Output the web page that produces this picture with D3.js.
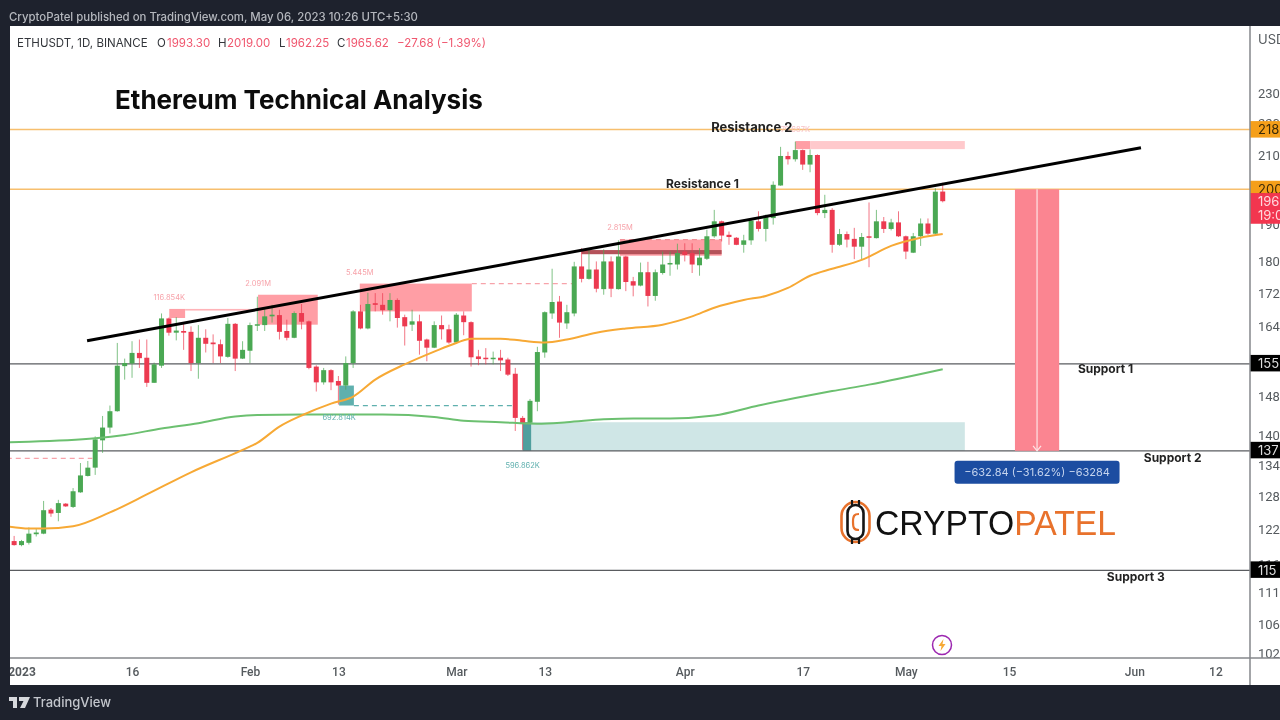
<!DOCTYPE html>
<html>
<head>
<meta charset="utf-8">
<script src="https://cdn.jsdelivr.net/npm/d3@7"></script>
<style>
  html, body { margin: 0; padding: 0; background: #1e222d; }
  svg { display: block; filter: blur(0.45px); }
  text { font-family: Inter, Roboto, sans-serif; }
</style>
</head>
<body>
<div id="chart"></div>
<script>
// daily candles, first one is 31 Dec 2022
const firstCandle = -1; // days from 1 Jan 2023
const opens = [
  1200,1193,1197,1212,1213,1256,1250,1267,1261,1288,
  1319,1335,1389,1415,1449,1547,1553,1577,1566,1510,
  1548,1658,1624,1628,1626,1554,1612,1601,1597,1568,
  1645,1564,1582,1642,1642,1663,1666,1628,1612,1671,
  1651,1546,1511,1538,1514,1504,1554,1675,1634,1695,
  1691,1678,1703,1661,1643,1651,1608,1589,1642,1632,
  1601,1665,1649,1569,1566,1563,1566,1562,1530,1435,
  1425,1469,1578,1670,1699,1646,1670,1788,1756,1780,
  1730,1801,1730,1814,1750,1739,1773,1713,1771,1793,
  1793,1827,1823,1791,1808,1868,1909,1872,1864,1845,
  1857,1909,1888,1918,2011,2099,2089,2117,2073,2102,
  1932,1941,1845,1874,1861,1840,1868,1863,1909,1888,
  1906,1868,1824,1868,1903,1875,1993.3];
const highs = [
  1209,1202,1224,1222,1272,1259,1274,1268,1296,1344,
  1348,1397,1439,1461,1600,1564,1604,1608,1608,1555,
  1670,1660,1661,1649,1639,1642,1632,1620,1608,1659,
  1647,1604,1648,1711,1684,1691,1679,1655,1675,1693,
  1653,1549,1543,1540,1525,1569,1678,1691,1721,1720,
  1720,1720,1707,1667,1679,1667,1610,1651,1665,1643,
  1671,1675,1651,1584,1588,1580,1584,1566,1543,1439,
  1475,1591,1675,1782,1713,1691,1800,1836,1836,1801,
  1833,1814,1857,1816,1761,1798,1800,1780,1827,1827,
  1848,1849,1849,1836,1886,1941,1911,1881,1866,1872,
  1918,1937,1928,2023,2127,2112,2143,2119,2119,2104,
  1984,1946,1888,1881,1891,1877,1962,1941,1921,1916,
  1937,1870,1877,1917,1917,2003,2019];
const lows = [
  1192,1191,1194,1208,1212,1243,1235,1261,1259,1287,
  1318,1321,1364,1403,1448,1517,1521,1543,1501,1510,
  1543,1617,1606,1584,1536,1519,1578,1554,1554,1566,
  1536,1563,1554,1628,1628,1648,1608,1606,1611,1632,
  1540,1491,1506,1494,1463,1495,1543,1632,1632,1675,
  1667,1651,1636,1594,1628,1573,1558,1588,1608,1598,
  1598,1618,1546,1549,1551,1551,1536,1525,1408,1370,
  1424,1449,1566,1657,1612,1633,1663,1747,1754,1722,
  1716,1710,1729,1725,1712,1737,1687,1701,1767,1764,
  1780,1801,1771,1764,1805,1864,1854,1845,1844,1824,
  1845,1881,1854,1900,2010,2073,2082,2057,2050,1926,
  1918,1824,1842,1838,1807,1805,1786,1862,1877,1884,
  1866,1807,1823,1842,1872,1872,1962.25];
const closes = [
  1193,1200,1213,1215,1255,1249,1268,1262,1290,1320,
  1335,1391,1415,1449,1548,1554,1577,1565,1510,1551,
  1658,1624,1629,1624,1554,1612,1598,1597,1569,1645,
  1564,1584,1642,1644,1663,1667,1626,1612,1671,1650,
  1543,1511,1538,1511,1504,1554,1675,1634,1693,1691,
  1678,1703,1659,1639,1651,1605,1589,1642,1632,1601,
  1667,1649,1567,1563,1563,1566,1560,1528,1435,1424,
  1471,1579,1673,1698,1648,1673,1788,1756,1780,1731,
  1801,1731,1814,1748,1739,1773,1713,1773,1793,1797,
  1823,1818,1793,1811,1868,1909,1870,1866,1845,1857,
  1911,1888,1923,2013,2099,2089,2117,2073,2102,1932,
  1941,1845,1874,1859,1840,1866,1864,1909,1888,1906,
  1868,1827,1868,1903,1875,1993,1965.62];

// moving averages as [day, price]
const orangeMa = [[-2,1226],[1,1222],[3,1222],[7,1226],[12,1251],[17,1284],[23,1326],[30,1370],[32,1384],[35,1417],
  [38,1440],[42,1465],[45,1480],[48,1517],[52,1551],[56,1580],[59,1600],[61,1610],[65,1610],[68,1605],
  [71,1601],[74,1608],[78,1624],[82,1634],[87,1643],[91,1663],[94,1684],[98,1703],[101,1713],[104,1733],
  [107,1764],[110,1782],[114,1805],[118,1842],[122,1864],[125,1874]];
const greenMa = [[-2,1385],[1,1386],[10,1393],[14,1400],[19,1413],[24,1424],[29,1438],[32,1441],[40,1442],[49,1442],
  [56,1437],[60,1429],[65,1426],[70,1423],[74,1426],[79,1432],[83,1434],[88,1434],[94,1440],[100,1461],
  [105,1477],[110,1492],[115,1506],[125,1540]];

// drawn levels
const orangeLevels = [2181, 2000];
const greyLevels = [1552, 1368, 1150];
const trendLine = [[8.9,1605],[151.9,2124]];
const levelTags = [["218",2181,"#f59f1a","#3a2a08"],["200",2000,"#f59f1a","#3a2a08"],
  ["155",1552,"#000","#ddd"],["137",1368,"#000","#ddd"],["115",1150,"#000","#ddd"]];
const levelNames = [["Resistance 2",99.1,2181,2.5,13],["Resistance 1",92.4,2000,-1.5,12],
  ["Support 1",147.1,1552,9,12],["Support 2",156.2,1368,11,12],["Support 3",151.2,1150,11,12]];

// zones: day from, day to, price top, price bottom, colour
const zones = [
  [20.05,22.2,1681,1659,"#ff9ea5"],[22.2,32.1,1681,1677,"#ffb3b8"],
  [32.1,40.2,1716,1643,"#ff9ea5"],[45.9,61.1,1744,1675,"#ff9ea5"],
  [81.2,95,1859,1816,"#ff9ea5"],[76,95,1831,1820,"#b5525a"],
  [105,107,2145,2120,"#ff9ea5"],[107,128,2145,2120,"#ffc9cc"],
  [43.1,45.1,1504,1461,"#5fb0ae"],[68,69.2,1426,1368,"#4f9f9e"],[69.2,128,1426,1368,"#cfe6e6"]];
const zoneDashes = [[-2,9.6,1353,"#f7a3aa"],[61.1,75.1,1744,"#f7a3aa"],[81.2,95,1859,"#f28f97"],[45.1,66.6,1461,"#5fb0ae"]];
const zoneLabels = [["116.854K",20.05,1681,-9,"#f7a3aa"],["2.091M",32.1,1716,-9,"#f7a3aa"],["5.445M",45.9,1744,-9,"#f7a3aa"],
  ["2.815M",81.2,1859,-10,"#f7a3aa"],["70.687K",105,2145,-9,"#f7c0c4"],["692.814K",43.1,1461,14,"#5fb0ae"],["596.862K",68,1368,17,"#5fb0ae"]];

// short position box
const positionDays = [134.8, 140.8];
const positionPrices = [2000, 1368];
const positionLabel = "\u2212632.84 (\u221231.62%) \u221263284";

// axes
const priceTicks = [2300,2200,2100,2000,1900,1800,1720,1640,1560,1480,1400,1340,1280,1220,1160,1114,1064,1020];
const timeTicks = [0,15,31,43,59,71,90,106,120,134,151,162];
const timeLabels = ["2023","16","Feb","13","Mar","13","Apr","17","May","15","Jun","12"];

const width = 1280, height = 720;
const plot = { left: 10, top: 26, right: 1250, bottom: 658, end: 685 };
const upColor = "#4aa853", downColor = "#ec3a50";

const toDate = d => new Date(Date.UTC(2023, 0, 1) + d * 864e5);
const x = d3.scaleUtc().domain([toDate(0), toDate(162)]).range([21.5, 1215.4]);
const y = d3.scaleLog().domain([1020, 2300]).range([653, 93]);
const xd = d => x(toDate(d));

const svg = d3.select("#chart").append("svg")
  .attr("width", width).attr("height", height)
  .attr("viewBox", "0 0 1280 720");

svg.append("rect").attr("width", width).attr("height", height).attr("fill", "#fff");

const clip = svg.append("defs").append("clipPath").attr("id", "plot-clip");
clip.append("rect").attr("x", plot.left).attr("y", plot.top)
  .attr("width", plot.right - plot.left).attr("height", plot.bottom - plot.top);

const main = svg.append("g").attr("clip-path", "url(#plot-clip)");

// zones go under the candles
main.selectAll(".zone").data(zones).join("rect").attr("class", "zone")
  .attr("x", d => xd(d[0])).attr("width", d => xd(d[1]) - xd(d[0]))
  .attr("y", d => y(d[2])).attr("height", d => y(d[3]) - y(d[2]))
  .attr("fill", d => d[4]);

main.selectAll(".dash").data(zoneDashes).join("line").attr("class", "dash")
  .attr("x1", d => xd(d[0])).attr("x2", d => xd(d[1]))
  .attr("y1", d => y(d[2])).attr("y2", d => y(d[2]))
  .attr("stroke", d => d[3]).attr("stroke-width", 1.2).attr("stroke-dasharray", "5 4");

// horizontal levels
main.selectAll(".orange-level").data(orangeLevels).join("line").attr("class", "orange-level")
  .attr("x1", plot.left).attr("x2", plot.right).attr("y1", d => y(d)).attr("y2", d => y(d))
  .attr("stroke", "#f7bf6e").attr("stroke-width", 1.5);
main.selectAll(".grey-level").data(greyLevels).join("line").attr("class", "grey-level")
  .attr("x1", plot.left).attr("x2", plot.right).attr("y1", d => y(d)).attr("y2", d => y(d))
  .attr("stroke", "#5a5c60").attr("stroke-width", 1.4);

// position box
main.append("rect")
  .attr("x", xd(positionDays[0])).attr("width", xd(positionDays[1]) - xd(positionDays[0]))
  .attr("y", y(positionPrices[0])).attr("height", y(positionPrices[1]) - y(positionPrices[0]))
  .attr("fill", "#fb8591");
const midDay = (positionDays[0] + positionDays[1]) / 2;
main.append("line").attr("x1", xd(midDay)).attr("x2", xd(midDay))
  .attr("y1", y(positionPrices[0])).attr("y2", y(positionPrices[1]))
  .attr("stroke", "#fde3e5").attr("stroke-width", 1.2);
main.append("path")
  .attr("d", d3.line()([[xd(midDay) - 4, y(positionPrices[1]) - 5], [xd(midDay), y(positionPrices[1])], [xd(midDay) + 4, y(positionPrices[1]) - 5]]))
  .attr("fill", "none").attr("stroke", "#fde3e5").attr("stroke-width", 1.2);

// candles
const candles = opens.map((o, i) => ({ day: firstCandle + i, o: o, h: highs[i], l: lows[i], c: closes[i] }));
main.selectAll(".wick").data(candles).join("line").attr("class", "wick")
  .attr("x1", d => xd(d.day)).attr("x2", d => xd(d.day))
  .attr("y1", d => y(d.h)).attr("y2", d => y(d.l))
  .attr("stroke", d => d.c >= d.o ? upColor : downColor)
  .attr("stroke-opacity", 0.7).attr("stroke-width", 1);
main.selectAll(".body").data(candles).join("rect").attr("class", "body")
  .attr("x", d => xd(d.day) - 2.5).attr("width", 5)
  .attr("y", d => y(Math.max(d.o, d.c)))
  .attr("height", d => Math.max(1.5, Math.abs(y(d.o) - y(d.c))))
  .attr("fill", d => d.c >= d.o ? upColor : downColor);

// moving averages
const maLine = d3.line().x(d => xd(d[0])).y(d => y(d[1])).curve(d3.curveMonotoneX);
main.append("path").attr("d", maLine(greenMa)).attr("fill", "none").attr("stroke", "#6cc070").attr("stroke-width", 2);
main.append("path").attr("d", maLine(orangeMa)).attr("fill", "none").attr("stroke", "#f7a935").attr("stroke-width", 2);

// trend line
main.append("path").attr("d", d3.line().x(d => xd(d[0])).y(d => y(d[1]))(trendLine))
  .attr("fill", "none").attr("stroke", "#000").attr("stroke-width", 3);

// zone labels
main.selectAll(".zone-label").data(zoneLabels).join("text").attr("class", "zone-label")
  .attr("x", d => xd(d[1])).attr("y", d => y(d[2]) + d[3])
  .attr("text-anchor", "middle").attr("font-size", 7.5).attr("fill", d => d[4])
  .text(d => d[0]);

// names of the levels
main.selectAll(".level-name").data(levelNames).join("text").attr("class", "level-name")
  .attr("x", d => xd(d[1])).attr("y", d => y(d[2]) + d[3])
  .attr("text-anchor", "middle").attr("font-size", d => d[4]).attr("font-weight", 700).attr("fill", "#222")
  .text(d => d[0]);

// title
svg.append("text").attr("x", 115).attr("y", 109).attr("font-size", 26).attr("font-weight", 700)
  .attr("fill", "#0c0c0c").text("Ethereum Technical Analysis");

// position label
const labelBox = svg.append("g").attr("transform", `translate(${xd(midDay)},${y(positionPrices[1]) + 21})`);
labelBox.append("rect").attr("x", -82.5).attr("y", -11).attr("width", 165).attr("height", 23).attr("rx", 3).attr("fill", "#1c4da1");
labelBox.append("text").attr("text-anchor", "middle").attr("y", 4).attr("font-size", 11).attr("fill", "#c5d4ee").text(positionLabel);

// logo
const logo = svg.append("g").attr("transform", "translate(840,500)");
logo.append("rect").attr("x", 1.5).attr("y", 2).attr("width", 28).attr("height", 40).attr("rx", 14).attr("fill", "none").attr("stroke", "#e8722c").attr("stroke-width", 2.6);
logo.append("rect").attr("x", 7.5).attr("y", 5).attr("width", 16).attr("height", 34).attr("rx", 8).attr("fill", "none").attr("stroke", "#151515").attr("stroke-width", 2.6);
logo.append("path").attr("d", "M19 14 C14 14 13 16 13 22 C13 28 14 30 19 30").attr("fill", "none").attr("stroke", "#e8722c").attr("stroke-width", 2.2);
logo.append("path").attr("d", "M12 0V5M19 0V5M12 39V44M19 39V44").attr("stroke", "#151515").attr("stroke-width", 2.2);
const logoText = svg.append("text").attr("x", 875).attr("y", 535).attr("font-size", 35)
  .attr("style", "font-family:'Liberation Sans',sans-serif").attr("textLength", 241).attr("lengthAdjust", "spacingAndGlyphs");
logoText.append("tspan").attr("fill", "#111").text("CRYPTO");
logoText.append("tspan").attr("fill", "#e8722c").text("PATEL");

// bolt badge
const bolt = svg.append("g").attr("transform", "translate(942,645)");
bolt.append("circle").attr("r", 9.5).attr("fill", "#fff").attr("stroke", "#9c27b0").attr("stroke-width", 1.5);
bolt.append("path").attr("d", "M1.5 -6 L-3.5 1 L-0.5 1 L-1.5 6 L3.5 -1 L0.5 -1 Z").attr("fill", "#f7a935");

// price axis
const priceAxis = d3.axisRight(y).tickValues(priceTicks).tickSize(0).tickPadding(8)
  .tickFormat(d => String(d).slice(0, 3));
const priceG = svg.append("g").attr("transform", `translate(${plot.right},0)`).call(priceAxis);
priceG.select(".domain").remove();
priceG.selectAll("text").attr("font-size", 13).attr("fill", "#555a5e")
  .attr("style", "font-family:Roboto,sans-serif");
svg.append("text").attr("x", 1258).attr("y", 44).attr("font-size", 13).attr("fill", "#555a5e").text("USD");

// tags on the axis
const tags = svg.selectAll(".tag").data(levelTags).join("g").attr("class", "tag")
  .attr("transform", d => `translate(${plot.right},${y(d[1])})`);
tags.append("rect").attr("y", d => d[2] === "#000" ? -9 : -8.5).attr("width", 30).attr("height", 16.5).attr("fill", d => d[2]);
tags.append("text").attr("x", 8).attr("y", 4.5).attr("font-size", 13).attr("fill", d => d[3]).text(d => d[0]);

svg.append("rect").attr("x", plot.right).attr("y", y(2000) + 3.8).attr("width", 30).attr("height", 30.7).attr("fill", "#f2364f");
svg.append("text").attr("x", 1258).attr("y", y(2000) + 16.5).attr("font-size", 13).attr("fill", "#ffd9dd").text("196");
svg.append("text").attr("x", 1258).attr("y", y(2000) + 31).attr("font-size", 13).attr("fill", "#ffd9dd").text("19:0");

// time axis
const timeAxis = d3.axisBottom(x).tickValues(timeTicks.map(toDate)).tickSize(0).tickPadding(8)
  .tickFormat((d, i) => timeLabels[i]);
const timeG = svg.append("g").attr("transform", `translate(0,${plot.bottom + 1})`).call(timeAxis);
timeG.select(".domain").remove();
timeG.selectAll("text").attr("font-size", 12).attr("fill", "#555a5e")
  .attr("font-weight", (d, i) => i === 0 ? 700 : 500)
  .attr("style", "font-family:Roboto,sans-serif");

// plot borders
svg.append("line").attr("x1", plot.left).attr("x2", width).attr("y1", plot.bottom).attr("y2", plot.bottom).attr("stroke", "#85878b").attr("stroke-width", 1.5);
svg.append("line").attr("x1", plot.right).attr("x2", plot.right).attr("y1", plot.top).attr("y2", plot.end).attr("stroke", "#85878b").attr("stroke-width", 1.5);

// dark frame
svg.append("rect").attr("width", width).attr("height", plot.top).attr("fill", "#1e222d");
svg.append("rect").attr("width", plot.left).attr("height", height).attr("fill", "#1e222d");
svg.append("rect").attr("y", plot.end).attr("width", width).attr("height", height - plot.end).attr("fill", "#1e222d");

svg.append("text").attr("x", 9).attr("y", 21).attr("font-size", 11.4).attr("font-weight", 500).attr("fill", "#b4b7bd")
  .text("CryptoPatel published on TradingView.com, May 06, 2023 10:26 UTC+5:30");

// ohlc legend
const legendParts = [["ETHUSDT, 1D, BINANCE", "#33363b", 17], ["O", "#33363b", 157], ["1993.30", "#f0566e", 167],
  ["H", "#33363b", 218], ["2019.00", "#f0566e", 227], ["L", "#33363b", 279], ["1962.25", "#f0566e", 286],
  ["C", "#33363b", 337], ["1965.62", "#f0566e", 346], ["\u221227.68 (\u22121.39%)", "#f0566e", 397]];
svg.selectAll(".legend").data(legendParts).join("text").attr("class", "legend")
  .attr("x", d => d[2]).attr("y", 47).attr("font-size", 11.5).attr("fill", d => d[1]).text(d => d[0]);

// footer logo
const footer = svg.append("g").attr("transform", "translate(9,696)");
footer.append("path").attr("d", "M0 1H8V12H4V5H0Z M10 1H21L16 12H11L14.5 5H10Z").attr("fill", "#d6d8dc");
svg.append("text").attr("x", 33).attr("y", 707).attr("font-size", 13).attr("font-weight", 500).attr("fill", "#c3c6cc").text("TradingView");
</script>
</body>
</html>
